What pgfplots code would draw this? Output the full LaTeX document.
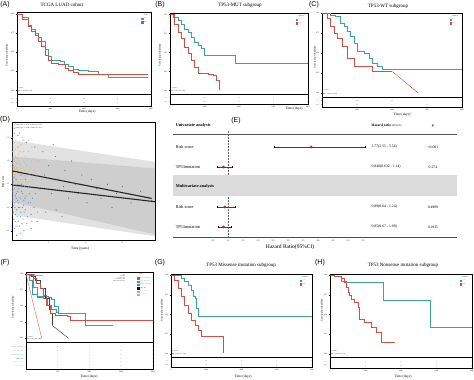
\documentclass[border=0pt]{standalone}
\usepackage{pgfplots}
\pgfplotsset{compat=1.18}
\usepackage{fontspec}
\setmainfont{Liberation Serif}
\newfontfamily\lsans{Liberation Sans}
\definecolor{kmgreen}{RGB}{58,166,140}
\definecolor{kmred}{RGB}{214,76,66}
\definecolor{dorange}{RGB}{226,178,80}
\definecolor{dblue}{RGB}{80,140,200}
\definecolor{ered}{RGB}{200,30,30}
\definecolor{fblue}{RGB}{60,150,180}
\definecolor{fsalmon}{RGB}{240,150,120}
\definecolor{flblue}{RGB}{140,180,230}
\newcommand{\tfs}{\fontsize{3.6}{4}\selectfont}
\tikzset{kmtxt/.style={anchor=west, font=\fontsize{3}{3.2}\selectfont, inner sep=0.4pt},
  plab/.style={font=\lsans\fontsize{14}{14}\selectfont, inner sep=0pt},
  ttl/.style={font=\fontsize{10}{10}\selectfont, inner sep=0pt},
  xl/.style={font=\fontsize{7}{7}\selectfont, inner sep=0pt},
  yl/.style={font=\fontsize{5.5}{6}\selectfont, inner sep=0pt, rotate=90}}
\pgfplotsset{
  every axis/.append style={scale only axis, /pgf/number format/assume math mode=true,
    tick label style={font=\tfs}, axis line style={line width=0.8pt},
    major tick length=2pt, tick style={line width=0.5pt, black}},
  sq/.style={legend image code/.code={\fill[#1] (0pt,-1.3pt) rectangle (2.6pt,1.3pt);}},
  kmmain/.style={anchor=north west, xmin=0, xmax=8000, ymin=-0.045, ymax=1.02,
    xtick={0,2000,4000,6000,8000}, xticklabels={}, ytick={0,0.25,0.5,0.75,1},
    yticklabels={0.00,0.25,0.50,0.75,1.00}, tick pos=left, tick align=outside,
    legend style={at={(0.985,0.985)}, anchor=north east, draw=none, fill=none,
      font=\fontsize{3}{3.4}\selectfont, inner sep=0.5pt, row sep=-0.8pt,
      legend cell align=left}},
  kmline/.style={const plot, line width=0.9pt, no markers, forget plot},
  kmtab/.style={anchor=north west, xmin=0, xmax=8000, ymin=0, ymax=1,
    xtick={0,2000,4000,6000,8000}, xticklabels={0,2000,4000,6000,8000},
    tick pos=left, tick align=outside, ytick style={draw=none},
    yticklabel style={font=\fontsize{3}{3}\selectfont}},
  tabnum/.style={draw=none, mark=none, nodes near coords, point meta=explicit symbolic,
    nodes near coords style={font=\fontsize{2.8}{3}\selectfont, anchor=center, inner sep=0pt}, forget plot}
}
\begin{document}
\begin{tikzpicture}
\useasboundingbox (0,0) rectangle (948pt,-760pt);

% ---------------- (A)
\begin{axis}[kmmain, at={(34pt,-24pt)}, width=268pt, height=164pt, ymax=1.026]
\addlegendimage{empty legend}\addlegendentry{Group}
\addlegendimage{sq=kmgreen}\addlegendentry{\textcolor{kmgreen}{Low}}
\addlegendimage{sq=kmred}\addlegendentry{\textcolor{kmred}{High}}
\addplot[kmline, kmgreen] coordinates {(0,1) (300,0.96) (660,0.857) (860,0.80) (1060,0.748) (1260,0.70) (1460,0.639) (1660,0.54) (1860,0.443) (2060,0.40) (2560,0.378) (2800,0.34) (3060,0.313) (3360,0.28) (3660,0.261) (4260,0.248) (4860,0.217) (5460,0.174) (7800,0.174)};
\addplot[kmline, kmred] coordinates {(0,1) (300,0.93) (660,0.835) (860,0.78) (1060,0.726) (1260,0.65) (1460,0.574) (1660,0.465) (1860,0.40) (2060,0.357) (2460,0.348) (2860,0.291) (3060,0.27) (3360,0.24) (3660,0.217) (7800,0.217)};
\node[kmtxt] at (rel axis cs:0.005,0.075) {p = 0.58};
\node[kmtxt] at (rel axis cs:0.005,0.035) {HR = 1.07 (0.80 - 1.43)};
\end{axis}
\begin{axis}[kmtab, at={(34pt,-188pt)}, width=268pt, height=24pt, ytick={0.22,0.55},
  yticklabels={\textcolor{kmred}{High},\textcolor{kmgreen}{Low}}]
\addplot[tabnum] coordinates {(0,0.55)[250] (2000,0.55)[77] (4000,0.55)[24] (6000,0.55)[6] (8000,0.55)[1]
 (0,0.22)[250] (2000,0.22)[66] (4000,0.22)[19] (6000,0.22)[4] (8000,0.22)[0]};
\node[kmtxt, anchor=north west] at (rel axis cs:0,1) {Number at risk};
\end{axis}

% ---------------- (B)
\begin{axis}[kmmain, at={(340pt,-26pt)}, width=276pt, height=162pt]
\addlegendimage{empty legend}\addlegendentry{Riskscore}
\addlegendimage{sq=kmgreen}\addlegendentry{\textcolor{kmgreen}{Low}}
\addlegendimage{sq=kmred}\addlegendentry{\textcolor{kmred}{High}}
\addplot[kmline, kmgreen] coordinates {(0,1.0) (200,0.96) (448,0.922) (640,0.87) (837,0.813) (1031,0.77) (1226,0.704) (1420,0.639) (1615,0.596) (1810,0.552) (2004,0.465) (3658,0.465) (3755,0.365) (8000,0.365)};
\addplot[kmline, kmred] coordinates {(0,1) (253,0.878) (448,0.77) (642,0.683) (837,0.574) (1031,0.487) (1226,0.4) (1420,0.313) (1615,0.226) (2199,0.217) (2491,0.204) (2685,0.139) (2880,0.009)};
\node[kmtxt] at (rel axis cs:0.005,0.075) {p < 0.001};
\node[kmtxt] at (rel axis cs:0.005,0.035) {HR = 2.51 (1.62 - 3.89)};
\end{axis}
\begin{axis}[kmtab, at={(340pt,-188pt)}, width=276pt, height=20pt, ytick={0.22,0.55},
  yticklabels={\textcolor{kmred}{High},\textcolor{kmgreen}{Low}}]
\addplot[tabnum] coordinates {(0,0.55)[120] (2000,0.55)[30] (4000,0.55)[8] (6000,0.55)[2] (8000,0.55)[0]
 (0,0.22)[120] (2000,0.22)[14] (4000,0.22)[0] (6000,0.22)[0] (8000,0.22)[0]};
\node[kmtxt, anchor=north west] at (rel axis cs:0,1) {Number at risk};
\end{axis}

% ---------------- (C)
\begin{axis}[kmmain, at={(644pt,-26pt)}, width=280pt, height=168pt, ymin=-0.055, ymax=1.005]
\addlegendimage{empty legend}\addlegendentry{Riskscore}
\addlegendimage{sq=kmgreen}\addlegendentry{\textcolor{kmgreen}{Low}}
\addlegendimage{sq=kmred}\addlegendentry{\textcolor{kmred}{High}}
\addplot[kmline, kmgreen] coordinates {(0,1.0) (480,0.979) (767,0.958) (1055,0.874) (1247,0.832) (1439,0.769) (1630,0.706) (1822,0.622) (2014,0.517) (2398,0.496) (2686,0.433) (2877,0.370) (3165,0.328) (3453,0.294) (8000,0.294)};
\addplot[kmline, kmred] coordinates {(0,1) (288,0.937) (480,0.832) (671,0.748) (863,0.685) (1151,0.580) (1439,0.433) (1822,0.328) (2686,0.328) (2877,0.265) (4028,0.265)};
\addplot[kmred, line width=0.9pt, no markers, forget plot] coordinates {(4028,0.265) (5466,0.0)};
\node[kmtxt] at (rel axis cs:0.005,0.085) {p = 0.011};
\node[kmtxt] at (rel axis cs:0.005,0.04) {HR = 1.94 (1.16 - 3.24)};
\end{axis}
\begin{axis}[kmtab, at={(644pt,-194pt)}, width=280pt, height=20pt, ytick={0.22,0.55},
  yticklabels={\textcolor{kmred}{High},\textcolor{kmgreen}{Low}}]
\addplot[tabnum] coordinates {(0,0.55)[130] (2000,0.55)[38] (4000,0.55)[10] (6000,0.55)[3] (8000,0.55)[0]
 (0,0.22)[130] (2000,0.22)[22] (4000,0.22)[4] (6000,0.22)[0] (8000,0.22)[0]};
\node[kmtxt, anchor=north west] at (rel axis cs:0,1) {Number at risk};
\end{axis}

% ---------------- (D)
\begin{axis}[at={(24pt,-244pt)}, anchor=north west, width=286pt, height=236pt,
  xmin=0, xmax=19.45, ymin=-0.7, ymax=1.84, xtick={0,5,10,15}, ytick={-0.5,0,0.5,1,1.5},
  yticklabel style={/pgf/number format/.cd, fixed, fixed zerofill, precision=1},
  xticklabel style={yshift=1pt},
  tick pos=left, tick align=outside,
  legend style={at={(0.01,0.995)}, anchor=north west, draw=none, fill=none,
    font=\fontsize{3.2}{3.6}\selectfont, inner sep=0.5pt, row sep=-0.8pt, legend cell align=left}]
\addplot[fill=gray!75, fill opacity=0.3, draw=none, forget plot] coordinates {(0,1.45) (19.45,0.98) (19.45,-0.58) (0,0.12)} -- cycle;
\addplot[fill=gray!75, fill opacity=0.3, draw=none, forget plot] coordinates {(0,1.10) (19.45,0.84) (19.45,-0.62) (0,-0.16)} -- cycle;
\addplot[only marks, mark=*, mark size=0.9pt, gray!60!black, fill opacity=0.6, draw opacity=0.6, forget plot] coordinates {
(0.3,1.6) (0.8,1.55) (1.2,-0.55) (2.3,1.45) (3.1,1.3) (3.8,0.4) (4.2,1.2) (4.6,-0.1) (5.0,0.9) (5.4,0.3)
(5.9,1.1) (6.3,0.6) (6.8,-0.2) (7.2,0.8) (7.7,0.2) (8.1,1.0) (8.6,0.5) (9.0,0.3) (9.5,0.7) (10.2,0.1)
(10.8,0.6) (11.5,0.4) (12.1,0.2) (13.0,0.5) (13.6,0.0) (14.2,0.3) (15.0,0.45) (16.2,0.1) (17.5,0.35) (19.0,0.15)
(2.0,1.4) (2.6,-0.45) (3.4,-0.3) (4.4,0.7) (5.6,1.35) (6.0,-0.05) (7.0,0.45) (0.6,-0.6) (1.0,1.6) (1.5,1.45)};
\addplot[only marks, mark=*, mark size=0.9pt, dorange, fill opacity=0.75, draw opacity=0.75] coordinates {
(0.1,1.2) (0.2,0.9) (0.3,1.4) (0.4,0.7) (0.5,1.1) (0.6,0.6) (0.7,1.3) (0.8,0.8) (0.9,1.0) (1.0,0.5)
(1.1,1.2) (1.2,0.9) (1.3,0.7) (1.4,1.5) (1.5,0.6) (1.6,1.0) (1.7,0.8) (1.8,1.1) (1.9,0.55) (2.0,0.9)
(2.2,1.2) (2.4,0.7) (2.6,1.0) (2.8,0.6) (3.0,0.8) (0.15,0.65) (0.25,1.05) (0.35,0.85) (0.45,1.25) (0.55,0.75)
(0.65,0.95) (0.75,0.45) (0.85,1.15) (0.95,0.7) (1.05,0.95) (1.15,0.6) (1.25,1.35) (1.35,0.85) (1.45,0.5) (1.55,1.2)
(1.65,0.7) (1.75,0.95) (1.85,0.65) (2.1,1.05) (2.3,0.55) (2.5,0.85) (2.7,1.3) (3.3,0.7) (3.6,1.0) (4.0,0.6)
(0.05,0.95) (0.12,1.5) (0.22,0.5) (0.32,0.8) (0.42,1.0) (0.52,1.45) (0.62,0.85) (0.72,1.05) (0.82,0.55) (0.92,1.3)};
\addlegendentry{Group\_one: y = 0.79 - 0.031x, R = -0.23}
\addplot[only marks, mark=*, mark size=0.9pt, dblue, fill opacity=0.75, draw opacity=0.75] coordinates {
(0.1,0.2) (0.2,-0.1) (0.3,0.4) (0.4,0.0) (0.5,-0.3) (0.6,0.3) (0.7,-0.2) (0.8,0.5) (0.9,0.1) (1.0,-0.4)
(1.1,0.2) (1.2,-0.1) (1.3,0.35) (1.4,0.0) (1.5,-0.25) (1.6,0.15) (1.7,0.45) (1.8,-0.05) (1.9,0.25) (2.0,-0.35)
(2.2,0.1) (2.4,0.3) (2.6,-0.15) (2.8,0.2) (3.0,0.0) (0.15,0.55) (0.25,0.05) (0.35,-0.45) (0.45,0.25) (0.55,0.6)
(0.65,-0.05) (0.75,0.15) (0.85,-0.3) (0.95,0.4) (1.05,0.0) (1.15,-0.2) (1.25,0.5) (1.35,-0.35) (1.45,0.3) (1.55,0.05)
(1.65,-0.1) (1.75,0.2) (1.85,0.6) (2.1,-0.2) (2.3,0.45) (2.5,0.1) (2.7,-0.3) (3.2,0.3) (3.5,-0.1) (0.05,0.35)
(0.18,-0.25) (0.28,0.65) (0.38,0.1) (0.48,-0.15) (0.58,0.2) (0.68,-0.4) (0.78,0.35) (0.88,0.0) (1.22,0.7) (1.62,-0.5)};
\addlegendentry{Group\_two: y = 0.49 - 0.019x, R = -0.12}
\addplot[black!85, line width=2.2pt, forget plot] coordinates {(0,0.787) (19.0,0.195)};
\addplot[black!85, line width=2.2pt, forget plot] coordinates {(0,0.486) (19.45,0.124)};
\end{axis}

% ---------------- (E)
\begin{axis}[at={(346pt,-236pt)}, anchor=north west, width=568pt, height=238pt,
  xmin=-0.8333, xmax=8.6333, ymin=-237, ymax=-118, clip=false,
  axis x line*=bottom, axis y line=none,
  x axis line style={-, line width=1.3pt, black!70},
  xtick={0.5,1,1.5,2,2.5,3,3.5,4,4.5,5,5.5},
  xticklabel style={font=\fontsize{4.5}{5}\selectfont, /pgf/number format/.cd, fixed, fixed zerofill, precision=1},
  tick align=outside]
\draw[dashed, black!60, line width=0.6pt] (axis cs:1,-131) -- (axis cs:1,-237);
\fill[gray!28] (axis cs:-0.8333,-175) rectangle (axis cs:8.6333,-196);
\draw[black!65, line width=1.3pt] (axis cs:-0.8333,-134) -- (axis cs:8.6333,-134);
\node[anchor=west, font=\bfseries\fontsize{8.5}{9}\selectfont] at (axis cs:-0.8,-125) {Univariate analysis};
\node[anchor=west, font=\bfseries\fontsize{8.5}{9}\selectfont] at (axis cs:-0.8,-186) {Multivariate analysis};
\node[anchor=west, font=\fontsize{8.5}{9}\selectfont] at (axis cs:-0.8,-147) {Risk score};
\node[anchor=west, font=\fontsize{8.5}{9}\selectfont] at (axis cs:-0.8,-167) {TP53mutation};
\node[anchor=west, font=\fontsize{8.5}{9}\selectfont] at (axis cs:-0.8,-207) {Risk score};
\node[anchor=west, font=\fontsize{8.5}{9}\selectfont] at (axis cs:-0.8,-227) {TP53mutation};
\node[anchor=west, font=\fontsize{7}{8}\selectfont] at (axis cs:5.73,-126) {\textbf{Hazard ratio} {\fontsize{5.5}{6}\selectfont (95\%CI)}};
\node[font=\bfseries\fontsize{7}{8}\selectfont] at (axis cs:7.83,-126) {p};
\node[anchor=west, font=\fontsize{7.5}{8}\selectfont] at (axis cs:5.73,-147) {3.77(2.55 - 5.56)};
\node[anchor=west, font=\fontsize{7.5}{8}\selectfont] at (axis cs:5.73,-167) {0.848(0.632 - 1.14)};
\node[anchor=west, font=\fontsize{7.5}{8}\selectfont] at (axis cs:5.73,-207) {0.89(0.64 - 1.24)};
\node[anchor=west, font=\fontsize{7.5}{8}\selectfont] at (axis cs:5.73,-227) {0.85(0.67 - 1.09)};
\node[font=\fontsize{7.5}{8}\selectfont] at (axis cs:7.83,-147) {<0.001};
\node[font=\fontsize{7.5}{8}\selectfont] at (axis cs:7.83,-167) {0.274};
\node[font=\fontsize{7.5}{8}\selectfont] at (axis cs:7.83,-207) {0.4909};
\node[font=\fontsize{7.5}{8}\selectfont] at (axis cs:7.83,-227) {0.1935};
\addplot[only marks, mark=*, mark size=2.6pt, ered,
  error bars/.cd, x dir=both, x explicit,
  error bar style={densely dotted, black!75, line width=0.5pt},
  error mark options={black, mark size=1.8pt, solid, rotate=90}] coordinates {
  (3.77,-147) += (1.79,0) -= (1.22,0)
  (0.848,-167) += (0.292,0) -= (0.216,0)
  (0.89,-207) += (0.35,0) -= (0.25,0)
  (0.85,-227) += (0.24,0) -= (0.18,0)};
\end{axis}

% ---------------- (F)
\begin{axis}[kmmain, at={(52pt,-544pt)}, width=254pt, height=140pt, ymin=-0.058, ymax=1.03,
  legend style={at={(0.995,0.99)}, font=\fontsize{2.8}{3}\selectfont}]
\addlegendimage{empty legend}\addlegendentry{Type}
\addlegendimage{sq=kmred}\addlegendentry{\textcolor{kmred}{Missense\_Mutation}}
\addlegendimage{sq=kmgreen}\addlegendentry{\textcolor{kmgreen}{Frame\_Shift\_Del}}
\addlegendimage{sq=fblue}\addlegendentry{\textcolor{fblue}{Nonsense\_Mutation}}
\addlegendimage{sq=black}\addlegendentry{Splice\_Site}
\addlegendimage{sq=fsalmon}\addlegendentry{\textcolor{fsalmon}{Frame\_Shift\_Ins}}
\addlegendimage{sq=flblue}\addlegendentry{\textcolor{flblue}{In\_Frame\_Del}}
\addplot[kmline, flblue] coordinates {(0,1) (500,0.985) (1100,0.985)};
\addplot[kmred!60!fsalmon, line width=0.9pt, no markers, forget plot] coordinates {(0,1) (990,0)};
\addplot[kmline, fblue] coordinates {(0,1) (200,0.9) (420,0.68) (700,0.64) (1100,0.62) (1350,0.52) (1600,0.45) (1900,0.40) (2100,0.40)};
\addplot[kmline, kmgreen] coordinates {(0,1) (250,0.98) (460,0.80) (680,0.66) (1400,0.64) (1600,0.6) (1800,0.5) (2000,0.39) (3500,0.39) (3750,0.2) (5480,0.2)};
\addplot[kmline, black!75] coordinates {(0,1) (300,0.97) (600,0.9) (900,0.78) (1200,0.62) (1450,0.45) (1550,0.39) (1650,0.2)};
\addplot[black!75, line width=0.9pt, no markers, forget plot] coordinates {(1650,0.2) (2680,0.0)};
\addplot[kmline, kmred] coordinates {(0,1) (463,0.933) (674,0.855) (884,0.777) (1095,0.674) (1305,0.518) (1516,0.389) (1832,0.363) (2568,0.337) (2779,0.285) (8000,0.285)};
\node[anchor=north east, font=\fontsize{2.5}{2.9}\selectfont, inner sep=0pt] at (rel axis cs:0.78,0.99) {%
\begin{tabular}{@{}l@{\,}r@{\,}r@{\,}r@{\,}r@{\,}r@{}}
p value &&&&&\\
&&&&& 0.35\\
&&&& 0.42 & 0.88\\
&&& 0.61 & 0.57 & 0.70\\
&& 0.01 & 0.09 & 0.12 & 0.20\\
& 0.83 & 0.64 & 0.77 & 0.45 & 0.51\\
\end{tabular}};
\node[kmtxt] at (rel axis cs:0.005,0.075) {p = 0.032};
\node[kmtxt] at (rel axis cs:0.005,0.035) {HR = 1.38 (1.03 - 1.86)};
\end{axis}
\begin{axis}[kmtab, at={(52pt,-684pt)}, width=254pt, height=54pt,
  ytick={0.10,0.24,0.38,0.52,0.66,0.80},
  yticklabels={\textcolor{flblue}{In\_Frame\_Del},\textcolor{fsalmon}{Frame\_Shift\_Ins},Splice\_Site,\textcolor{fblue}{Nonsense\_Mutation},\textcolor{kmgreen}{Frame\_Shift\_Del},\textcolor{kmred}{Missense\_Mutation}}]
\addplot[tabnum] coordinates {
(0,0.80)[140] (2000,0.80)[35] (4000,0.80)[9] (6000,0.80)[3] (8000,0.80)[0]
(0,0.66)[25] (2000,0.66)[6] (4000,0.66)[1] (6000,0.66)[0] (8000,0.66)[0]
(0,0.52)[22] (2000,0.52)[4] (4000,0.52)[0] (6000,0.52)[0] (8000,0.52)[0]
(0,0.38)[15] (2000,0.38)[2] (4000,0.38)[0] (6000,0.38)[0] (8000,0.38)[0]
(0,0.24)[5] (2000,0.24)[0] (4000,0.24)[0] (6000,0.24)[0] (8000,0.24)[0]
(0,0.10)[3] (2000,0.10)[0] (4000,0.10)[0] (6000,0.10)[0] (8000,0.10)[0]};
\node[kmtxt, anchor=north west] at (rel axis cs:0,1) {Number at risk};
\end{axis}

% ---------------- (G)
\begin{axis}[kmmain, at={(342pt,-548pt)}, width=282pt, height=166pt, ymin=-0.038, ymax=1.013]
\addlegendimage{empty legend}\addlegendentry{Riskscore}
\addlegendimage{sq=kmgreen}\addlegendentry{\textcolor{kmgreen}{Low}}
\addlegendimage{sq=kmred}\addlegendentry{\textcolor{kmred}{High}}
\addplot[kmline, kmgreen] coordinates {(0,1) (386,0.992) (578,0.958) (771,0.924) (964,0.873) (1157,0.810) (1253,0.726) (1350,0.705) (1446,0.578) (1542,0.473) (8000,0.473)};
\addplot[kmline, kmred] coordinates {(0,1) (193,0.937) (386,0.831) (578,0.726) (771,0.620) (964,0.515) (1157,0.430) (1350,0.367) (1542,0.304) (1735,0.219) (2892,0.219) (2988,0.008)};
\node[kmtxt] at (rel axis cs:0.005,0.075) {p < 0.001};
\node[kmtxt] at (rel axis cs:0.005,0.035) {HR = 2.96 (1.72 - 5.08)};
\end{axis}
\begin{axis}[kmtab, at={(342pt,-714pt)}, width=282pt, height=20pt, ytick={0.22,0.55},
  yticklabels={\textcolor{kmred}{High},\textcolor{kmgreen}{Low}}]
\addplot[tabnum] coordinates {(0,0.55)[75] (2000,0.55)[18] (4000,0.55)[5] (6000,0.55)[1] (8000,0.55)[0]
 (0,0.22)[75] (2000,0.22)[8] (4000,0.22)[0] (6000,0.22)[0] (8000,0.22)[0]};
\node[kmtxt, anchor=north west] at (rel axis cs:0,1) {Number at risk};
\end{axis}

% ---------------- (H)
\begin{axis}[kmmain, at={(660pt,-548pt)}, width=284pt, height=166pt, ymin=-0.038, ymax=1.013]
\addlegendimage{empty legend}\addlegendentry{Riskscore}
\addlegendimage{sq=kmgreen}\addlegendentry{\textcolor{kmgreen}{Low}}
\addlegendimage{sq=kmred}\addlegendentry{\textcolor{kmred}{High}}
\addplot[kmline, kmgreen] coordinates {(0,1) (246,0.979) (624,0.925) (908,0.913) (2988,0.683) (5635,0.342) (8000,0.342)};
\addplot[kmline, kmred] coordinates {(0,1) (246,0.988) (624,0.954) (813,0.904) (908,0.842) (1002,0.779) (1097,0.738) (1191,0.696) (1380,0.654) (1570,0.592) (1664,0.446) (1948,0.404) (2326,0.342) (2610,0.279) (2893,0.146) (3650,0.146)};
\node[kmtxt] at (rel axis cs:0.005,0.075) {p = 0.046};
\node[kmtxt] at (rel axis cs:0.005,0.035) {HR = 2.77 (0.99 - 7.74)};
\end{axis}
\begin{axis}[kmtab, at={(660pt,-714pt)}, width=284pt, height=22pt, ytick={0.22,0.55},
  yticklabels={\textcolor{kmred}{High},\textcolor{kmgreen}{Low}}]
\addplot[tabnum] coordinates {(0,0.55)[20] (2000,0.55)[7] (4000,0.55)[2] (6000,0.55)[1] (8000,0.55)[0]
 (0,0.22)[20] (2000,0.22)[3] (4000,0.22)[0] (6000,0.22)[0] (8000,0.22)[0]};
\node[kmtxt, anchor=north west] at (rel axis cs:0,1) {Number at risk};
\end{axis}

% ---------------- labels (pixel grid)
\begin{scope}[x=2pt, y=-2pt]
\node[plab] at (5,5) {(A)};
\node[plab] at (160,5) {(B)};
\node[plab] at (314,5) {(C)};
\node[plab] at (5,120) {(D)};
\node[plab] at (236,121) {(E)};
\node[plab] at (5,263) {(F)};
\node[plab] at (160,263) {(G)};
\node[plab] at (320,263) {(H)};
\node[ttl] at (62,5) {TCGA LUAD cohort};
\node[ttl] at (240,5) {TP53-MUT subgroup};
\node[ttl] at (388,6) {TP53-WT subgroup};
\node[ttl] at (241,265) {TP53 Missense mutation subgroup};
\node[ttl] at (403,265) {TP53 Nonsense mutation subgroup};
\node[xl] at (87,112) {Time (days)};
\node[xl] at (294,109) {Time (days)};
\node[xl] at (402,115) {Time (days)};
\node[xl] at (80,248.5) {Time (years)};
\node[xl] at (89,377) {Time (days)};
\node[xl] at (243,377) {Time (days)};
\node[xl] at (403,377) {Time (days)};
\node[yl] at (7,55) {Survival probability};
\node[yl] at (160,55) {Survival probability};
\node[yl] at (315,57) {Survival probability};
\node[yl] at (3,182) {Risk score};
\node[yl] at (13,307) {Survival probability};
\node[yl] at (162,310) {Survival probability};
\node[yl] at (322,310) {Survival probability};
\node[font=\fontsize{11}{11}\selectfont, inner sep=0pt] at (290,247) {Hazard Ratio(95\%CI)};
\end{scope}
\end{tikzpicture}
\end{document}
